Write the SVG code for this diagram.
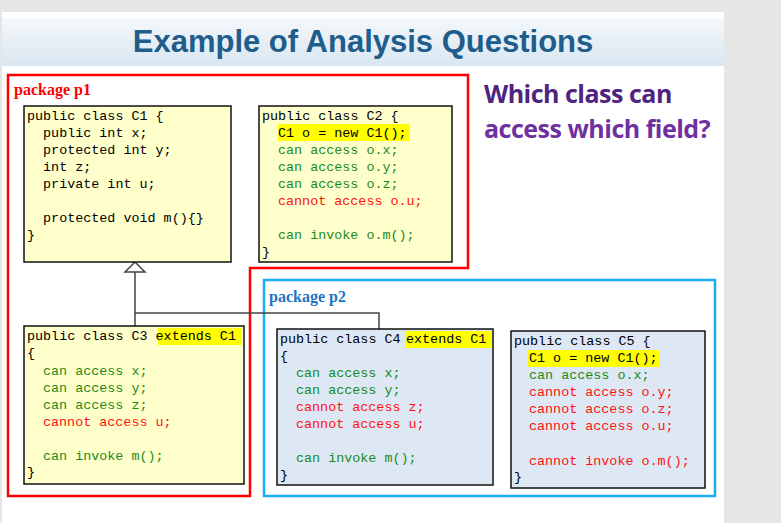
<svg xmlns="http://www.w3.org/2000/svg" width="781" height="523" viewBox="0 0 781 523">
<defs>
<linearGradient id="tg" x1="0" y1="0" x2="0" y2="1"><stop offset="0" stop-color="#f4f8fb"/><stop offset="1" stop-color="#d9e6f0"/></linearGradient>
<style>
.c{font-family:"Liberation Mono",monospace;font-size:13.4px;white-space:pre}
.k{fill:#000}.g{fill:#1a8a1a}.r{fill:#ff1010}
.y{fill:#ffffcc;stroke:#111;stroke-width:1.5}
.b{fill:#dde8f4;stroke:#111;stroke-width:1.5}
.hl{fill:#ffff00}
.pk{font-family:"Liberation Serif",serif;font-weight:bold;font-size:16px}
.q{font-family:"Open Sans",sans-serif;font-weight:bold;font-size:25px;letter-spacing:-0.5px}
</style>
</defs>
<rect width="781" height="523" fill="#ffffff"/>
<rect x="0" y="0" width="781" height="12" fill="#e6e6e6"/>
<rect x="724" y="0" width="57" height="523" fill="#e6e6e6"/>
<rect x="0" y="12" width="2" height="511" fill="#e6e6e6"/>
<rect x="2" y="18" width="722" height="48" fill="url(#tg)"/>
<text x="363" y="52" text-anchor="middle" font-family="Liberation Sans,Arial,sans-serif" font-weight="bold" font-size="31" fill="#1f5d8c">Example of Analysis Questions</text>
<text class="q" x="484" y="103" fill="#4f2380">Which class can</text>
<text class="q" x="484" y="138" fill="#7030a0">access which field?</text>

<g id="package-p1">
<path d="M8,75 H468 V268 H250 V496 H8 Z" fill="none" stroke="#ff0000" stroke-width="2.5"/>
<text class="pk" x="14" y="95" fill="#ff0000">package p1</text>
</g>
<g id="package-p2">
<rect x="264" y="280" width="451" height="216" fill="none" stroke="#1ab0f0" stroke-width="2.5"/>
<text class="pk" x="269" y="302" fill="#1d74c4">package p2</text>
</g>

<g id="connectors" fill="none" stroke="#444" stroke-width="1.5">
<path d="M135,272 V326 M135,313 H379 V329"/>
<path d="M135,262 L125,272 H145 Z" fill="#fff"/>
</g>

<g id="C1">
<rect class="y" x="24" y="106" width="207" height="156"/>
<text class="c k"><tspan x="27" y="120">public class C1 {</tspan><tspan x="27" y="137">  public int x;</tspan><tspan x="27" y="154">  protected int y;</tspan><tspan x="27" y="171">  int z;</tspan><tspan x="27" y="188">  private int u;</tspan><tspan x="27" y="222">  protected void m(){}</tspan><tspan x="27" y="239">}</tspan></text>
</g>
<g id="C2">
<rect class="y" x="259" y="106" width="193" height="156"/>
<rect class="hl" x="278" y="124" width="132" height="17"/>
<text class="c k" x="262" y="120">public class C2 {</text>
<text class="c k" x="278" y="137">C1 o = new C1();</text>
<text class="c g" x="278" y="154">can access o.x;</text>
<text class="c g" x="278" y="171">can access o.y;</text>
<text class="c g" x="278" y="188">can access o.z;</text>
<text class="c r" x="278" y="205">cannot access o.u;</text>
<text class="c g" x="278" y="239">can invoke o.m();</text>
<text class="c k" x="262" y="256">}</text>
</g>
<g id="C3">
<rect class="y" x="24" y="326" width="220" height="158"/>
<rect class="hl" x="158" y="328" width="84" height="17"/>
<text class="c k" x="27" y="340">public class C3 extends C1</text>
<text class="c k" x="27" y="357">{</text>
<text class="c g" x="43" y="375">can access x;</text>
<text class="c g" x="43" y="392">can access y;</text>
<text class="c g" x="43" y="409">can access z;</text>
<text class="c r" x="43" y="426">cannot access u;</text>
<text class="c g" x="43" y="460">can invoke m();</text>
<text class="c k" x="27" y="476">}</text>
</g>
<g id="C4">
<rect class="b" x="277" y="329" width="216" height="156"/>
<rect class="hl" x="405" y="331" width="86" height="17"/>
<text class="c k" x="280" y="343">public class C4</text>
<text class="c k" x="406" y="343">extends C1</text>
<text class="c k" x="280" y="360">{</text>
<text class="c g" x="296" y="377">can access x;</text>
<text class="c g" x="296" y="394">can access y;</text>
<text class="c r" x="296" y="411">cannot access z;</text>
<text class="c r" x="296" y="428">cannot access u;</text>
<text class="c g" x="296" y="462">can invoke m();</text>
<text class="c k" x="280" y="479">}</text>
</g>
<g id="C5">
<rect class="b" x="511" y="331" width="194" height="157"/>
<rect class="hl" x="527" y="350" width="132" height="17"/>
<text class="c k" x="514" y="345">public class C5 {</text>
<text class="c k" x="529" y="362">C1 o = new C1();</text>
<text class="c g" x="529" y="379">can access o.x;</text>
<text class="c r" x="529" y="396">cannot access o.y;</text>
<text class="c r" x="529" y="413">cannot access o.z;</text>
<text class="c r" x="529" y="430">cannot access o.u;</text>
<text class="c r" x="529" y="465">cannot invoke o.m();</text>
<text class="c k" x="514" y="481">}</text>
</g>
</svg>
